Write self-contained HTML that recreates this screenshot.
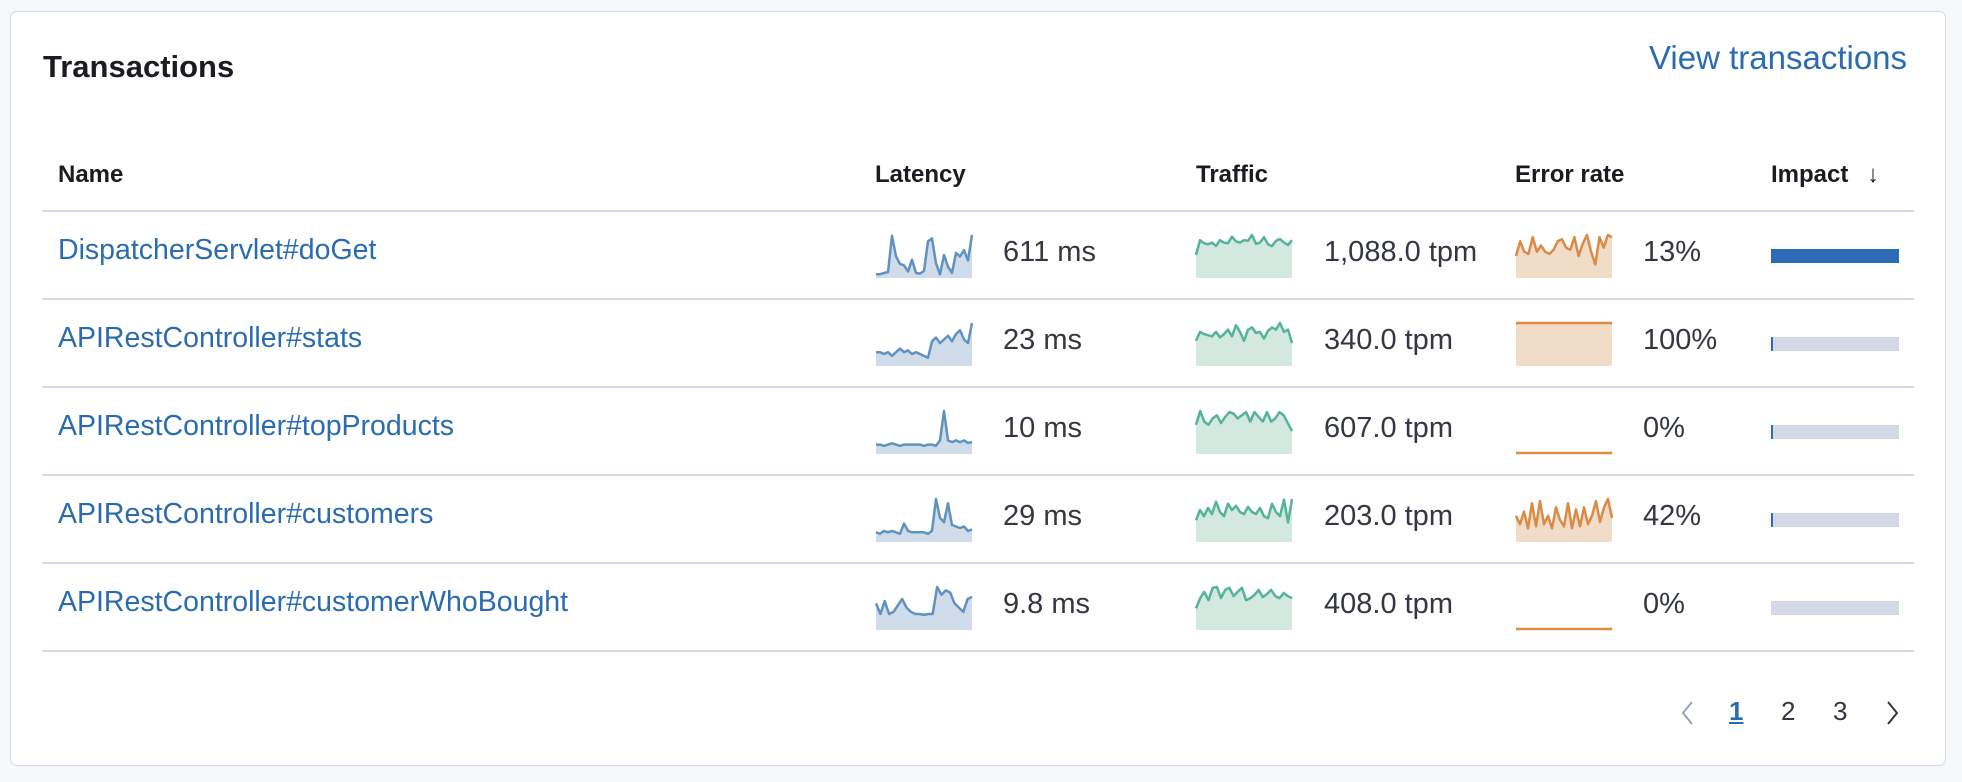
<!DOCTYPE html>
<html><head><meta charset="utf-8">
<style>
body{margin:0;width:1962px;height:782px;background:#f7f8fc;font-family:"Liberation Sans",sans-serif;color:#343741;position:relative;overflow:hidden}
.card{position:absolute;left:10px;top:11px;width:1936px;height:755px;background:#fff;border:1.5px solid #d3dae6;border-radius:7px;box-sizing:border-box}
.abs{position:absolute;white-space:nowrap}
.title{left:43px;top:49px;font-size:31px;font-weight:bold;color:#1a1c21}
.view{left:1649px;top:39px;font-size:33px;color:#2b6cb0}
.th{font-size:24px;font-weight:bold;color:#1a1c21;top:161px}
.line{position:absolute;left:42px;width:1872px;height:2px;background:#d3dae6}
.name{left:58px;font-size:28.5px;color:#2b6cb0}
.val{font-size:29px;color:#343741}
.imp{position:absolute;left:1771px;width:128px;height:14px;background:#d3dae6}
.imp div{height:100%;background:#2c6db5}
.pg{font-size:26px;top:696px}
</style></head><body>
<div class="card"></div>
<div class="abs title">Transactions</div>
<div class="abs view">View transactions</div>
<div class="abs th" style="left:58px">Name</div>
<div class="abs th" style="left:875px">Latency</div>
<div class="abs th" style="left:1196px">Traffic</div>
<div class="abs th" style="left:1515px">Error rate</div>
<div class="abs th" style="left:1771px">Impact <span style="font-weight:normal;margin-left:12px">↓</span></div>
<div id="rows"></div>
<svg class="abs" style="left:1680px;top:700px" width="16" height="26"><path d="M12 2 L3 13 L12 24" fill="none" stroke="#98a2b3" stroke-width="2"/></svg>
<div class="abs pg" style="left:1729px;color:#2b6cb0;font-weight:bold;text-decoration:underline">1</div>
<div class="abs pg" style="left:1781px">2</div>
<div class="abs pg" style="left:1833px">3</div>
<svg class="abs" style="left:1884px;top:700px" width="16" height="26"><path d="M4 2 L13 13 L4 24" fill="none" stroke="#343741" stroke-width="2"/></svg>
<script>
const names=["DispatcherServlet#doGet","APIRestController#stats","APIRestController#topProducts","APIRestController#customers","APIRestController#customerWhoBought"];
const latencyLabels=["611 ms","23 ms","10 ms","29 ms","9.8 ms"];
const trafficLabels=["1,088.0 tpm","340.0 tpm","607.0 tpm","203.0 tpm","408.0 tpm"];
const errorLabels=["13%","100%","0%","42%","0%"];
const impactValues=[100,1.5,1.5,1.5,0];
const latency1=[40,40,60,70,600,300,190,170,80,250,60,50,90,520,560,200,40,320,150,60,350,300,390,240,611];
const latency2=[7,7,6,7,5,7,9,7,8,6,7,6,5,4,13,15,12,14,16,13,17,19,14,12,23];
const latency3=[2,2,1.7,2,2.3,2,1.7,2,2,2,2,2,1.7,2,2,1.7,3,10,3,2.6,3,2.6,3,2.4,2.6];
const latency4=[6,5,7,6,7,6,5,12,7,6,6,6,6,5,7,29,16,13,26,11,10,9,10,7,8];
const latency5=[6,3.5,6.5,3.5,4,5.5,7,5,4,3.5,3.5,3.3,3.5,3.5,9.8,8,9,8.5,6,5,4,7,7.5];
const traffic1=[750,1000,950,930,960,900,1000,960,950,1060,980,960,1000,990,1088,940,960,1050,930,900,990,1020,960,920,1000];
const traffic2=[260,300,290,285,280,300,275,290,310,280,330,300,260,310,320,295,300,270,305,320,310,340,300,310,250];
const traffic3=[520,607,540,520,560,580,530,570,600,590,560,580,600,540,600,570,540,600,540,560,600,580,530,480];
const traffic4=[100,150,120,160,130,190,140,120,180,150,170,140,130,165,140,130,160,120,110,180,140,120,200,90,203];
const traffic5=[200,300,360,280,400,408,300,380,400,320,360,400,280,300,330,380,310,340,380,320,300,350,320,300];
const error1=[0.5,0.85,0.6,0.55,0.95,0.6,0.75,0.6,0.55,0.65,0.85,0.9,0.7,0.65,0.95,0.5,0.8,1,0.6,0.3,0.95,0.7,1,0.95];
const error2=[1,1,1,1,1,1,1,1,1,1,1,1];
const error3=[0,0,0,0,0,0,0,0,0,0,0,0];
const error4=[0.6,0.4,0.7,0.3,0.9,0.35,0.95,0.4,0.6,0.3,0.8,0.5,0.35,0.9,0.3,0.75,0.35,0.8,0.4,0.6,0.95,0.45,0.8,1,0.55];
const error5=[0,0,0,0,0,0,0,0,0,0,0,0];
const latencySeries=[latency1,latency2,latency3,latency4,latency5];
const trafficSeries=[traffic1,traffic2,traffic3,traffic4,traffic5];
const errorSeries=[error1,error2,error3,error4,error5];
const NS="http://www.w3.org/2000/svg";
const rowTop=[211,299,387,475,563];
function spark(vals,x,y,line,fill,name,zoomed){
  const W=96,H=48,svg=document.createElementNS(NS,"svg");
  svg.setAttribute("width",W+4);svg.setAttribute("height",H+4);
  svg.setAttribute("class","abs");svg.style.left=(x-2)+"px";svg.style.top=(y-2)+"px";
  
  
  let mx=Math.max(...vals),mn=Math.min(...vals);
  let lo=0;
  if(zoomed&&mx>mn){lo=mn-(mx-mn)*1.1;if(lo<0)lo=0;}
  if(mx<=lo)mx=lo+1;
  const sx=i=>2+i*W/(vals.length-1), sy=v=>2+H-1-((v-lo)/(mx-lo))*(H-6);
  let d=vals.map((v,i)=>(i?"L":"M")+sx(i).toFixed(1)+" "+sy(v).toFixed(1)).join(" ");
  const a=document.createElementNS(NS,"path");
  a.setAttribute("d",d+" L"+(2+W)+" "+(2+H)+" L2 "+(2+H)+" Z");a.setAttribute("fill",fill);
  
  
  svg.appendChild(a);
  const p=document.createElementNS(NS,"path");
  p.setAttribute("d",d);p.setAttribute("fill","none");p.setAttribute("stroke",line);p.setAttribute("stroke-width","2.5");p.setAttribute("stroke-linejoin","round");
  
  
  svg.appendChild(p);
  document.body.appendChild(svg);
}
function txt(cls,x,y,t,name,inter){
  const e=document.createElement("div");e.className="abs "+cls;e.style.left=x+"px";e.style.top=y+"px";e.textContent=t;
  
  
  document.body.appendChild(e);
}
for(let r=0;r<5;r++){
  const t=rowTop[r];
  const ln=document.createElement("div");ln.className="line";ln.style.top=(t-1)+"px";
  
  
  document.body.appendChild(ln);
  const cy=t+44;
  txt("name",58,cy-21,names[r],"transaction-name-link","true");
  spark(latencySeries[r],876,cy-25,"#6092c0","#d1dcea","latency-sparkline",true);
  txt("val",1003,cy-19,latencyLabels[r],"latency-value","false");
  spark(trafficSeries[r],1196,cy-25,"#54b399","#d3e9e0","traffic-sparkline",true);
  txt("val",1324,cy-19,trafficLabels[r],"traffic-value","false");
  spark(errorSeries[r],1516,cy-25,"#da8b45","#f1dcc8","error-rate-sparkline",false);
  txt("val",1643,cy-19,errorLabels[r],"error-rate-value","false");
  const ib=document.createElement("div");ib.className="imp";ib.style.top=(cy-6)+"px";
  
  
  const f=document.createElement("div");f.style.width=(impactValues[r]>0?Math.max(2,impactValues[r]*1.28):0)+"px";
  
  
  ib.appendChild(f);document.body.appendChild(ib);
}
const last=document.createElement("div");last.className="line";last.style.top="650px";


document.body.appendChild(last);
</script>
</body></html>
